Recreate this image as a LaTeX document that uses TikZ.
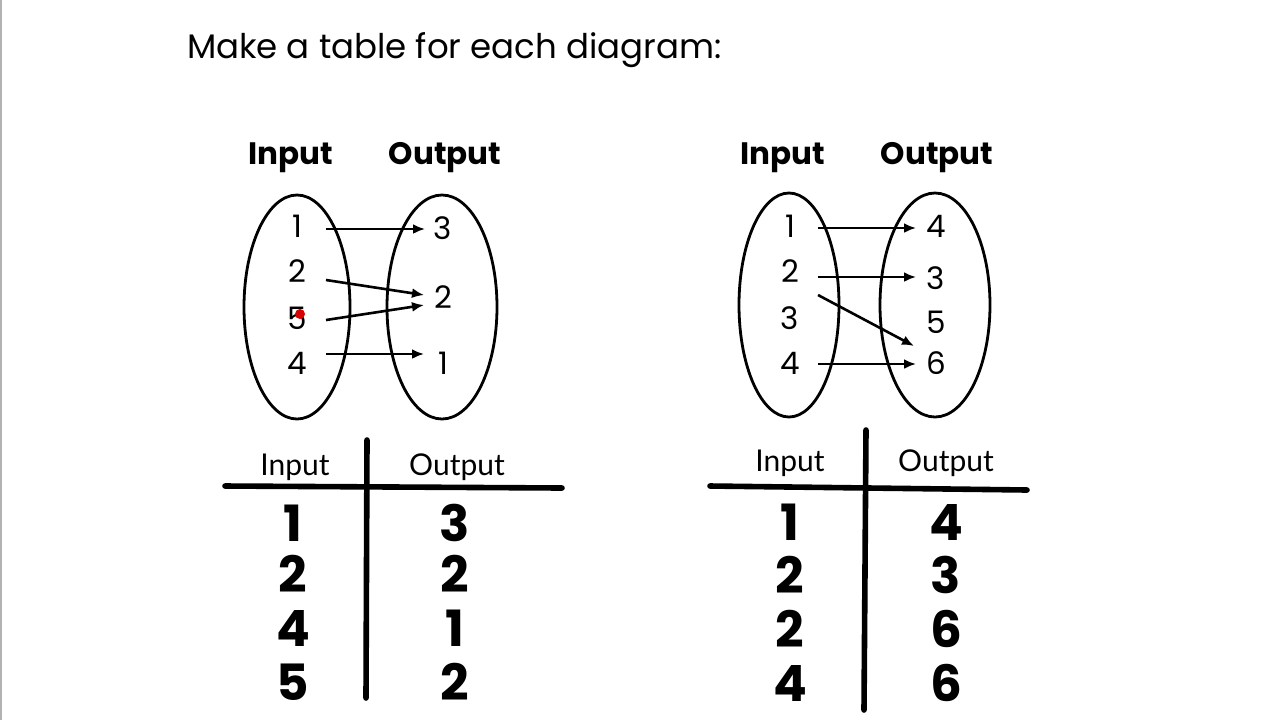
\documentclass[tikz,border=0pt]{standalone}
\usepackage{fontspec}
\setmainfont{Poppins}
\newfontfamily\lab{Lato}
\newfontfamily\hand{Poppins}
\usetikzlibrary{arrows.meta}
\begin{document}
\begin{tikzpicture}[x=0.5pt,y=-0.5pt,
  hd/.style={font=\fontsize{15.5}{18}\selectfont\bfseries},
  nm/.style={font=\fontsize{15.5}{18}\selectfont},
  ell/.style={draw,line width=1.4pt},
  arr/.style={-{Latex[length=6pt,width=5pt]},line width=1.3pt},
  tl/.style={line width=2.8pt,line cap=round},
  th/.style={font=\lab\fontsize{15}{18}\selectfont},
  hw/.style={font=\hand\fontsize{25}{30}\selectfont\bfseries}]
\useasboundingbox (0,0) rectangle (1280,720);
\fill[white] (0,0) rectangle (1280,720);
\draw[gray!60,line width=0.8pt] (1,0) -- (1,720);
\node[font=\fontsize{17}{20}\selectfont,anchor=west] (title) at (180,50) {Make a table for each diagram:};
% left diagram
\node[hd] (li) at (291,158) {Input};
\node[hd] (lo) at (445,158) {Output};
\draw[ell] (297,307) ellipse [x radius=53,y radius=112];
\draw[ell] (442,307) ellipse [x radius=55,y radius=112];
\node[nm] (a1) at (297,226) {1};
\node[nm] (a2) at (297,271) {2};
\node[nm] (a5) at (297,318) {5};
\node[nm] (a4) at (297,363) {4};
\node[nm] (b3) at (443,228) {3};
\node[nm] (b2) at (443,297) {2};
\node[nm] (b1) at (443,363) {1};
\fill[red!85!black] (300,314) circle (5);
\coordinate (s1) at (326,229); \coordinate (e1) at (425,229);
\coordinate (s2) at (326,280); \coordinate (e2) at (424,295);
\coordinate (s3) at (326,320); \coordinate (e3) at (424,305);
\coordinate (s4) at (326,354); \coordinate (e4) at (424,354);
\draw[arr] (s1) -- (e1); \draw[arr] (s2) -- (e2);
\draw[arr] (s3) -- (e3); \draw[arr] (s4) -- (e4);
% right diagram
\node[hd] (ri) at (783,158) {Input};
\node[hd] (ro) at (937,158) {Output};
\draw[ell] (789,305) ellipse [x radius=50,y radius=112];
\draw[ell] (935,305) ellipse [x radius=55,y radius=112];
\node[nm] (c1) at (790,226) {1};
\node[nm] (c2) at (790,271) {2};
\node[nm] (c3) at (790,318) {3};
\node[nm] (c4) at (790,363) {4};
\node[nm] (d4) at (936,226) {4};
\node[nm] (d3) at (936,278) {3};
\node[nm] (d5) at (936,322) {5};
\node[nm] (d6) at (936,363) {6};
\coordinate (t1) at (818,228); \coordinate (f1) at (916,228);
\coordinate (t2) at (818,277); \coordinate (f2) at (916,277);
\coordinate (t3) at (818,295); \coordinate (f3) at (914,346);
\coordinate (t4) at (818,364); \coordinate (f4) at (916,364);
\draw[arr] (t1) -- (f1); \draw[arr] (t2) -- (f2);
\draw[arr] (t3) -- (f3); \draw[arr] (t4) -- (f4);
% left table
\draw[tl] (225,486) -- (562,488);
\draw[tl] (367,440) -- (366,698);
\node[th] (lth1) at (295,467) {Input};
\node[th] (lth2) at (457,467) {Output};
\node[hw] at (293,523) {1}; \node[hw] at (455,523) {3};
\node[hw] at (293,574) {2}; \node[hw] at (455,574) {2};
\node[hw] at (293,628) {4}; \node[hw] at (455,628) {1};
\node[hw] at (293,682) {5}; \node[hw] at (455,682) {2};
% right table
\draw[tl] (710,486) -- (1027,490);
\draw[tl] (866,430) -- (864,710);
\node[th] (rth1) at (790,463) {Input};
\node[th] (rth2) at (946,463) {Output};
\node[hw] at (790,522) {1}; \node[hw] at (946,522) {4};
\node[hw] at (790,575) {2}; \node[hw] at (946,575) {3};
\node[hw] at (790,629) {2}; \node[hw] at (946,629) {6};
\node[hw] at (790,683) {4}; \node[hw] at (946,683) {6};
\end{tikzpicture}
\end{document}
